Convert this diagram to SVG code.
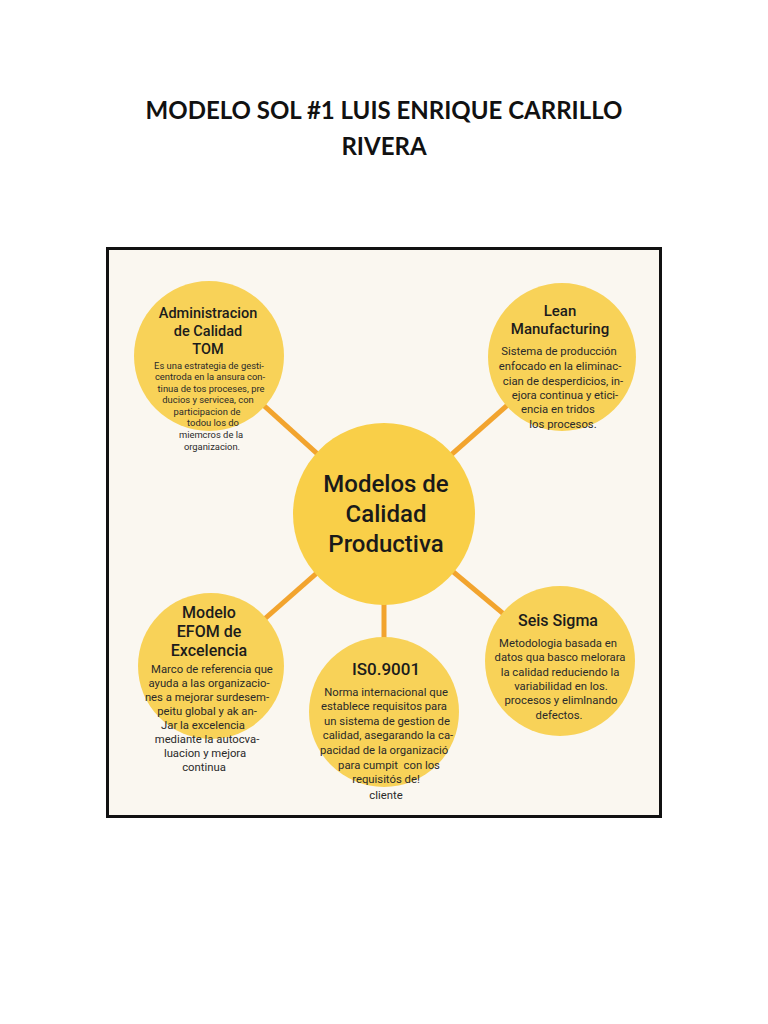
<svg xmlns="http://www.w3.org/2000/svg" width="768" height="1024" viewBox="0 0 768 1024">
<style>
.hdr{font-family:Lato,"Liberation Sans",sans-serif;font-weight:700;font-size:24px;fill:#111;text-anchor:middle}
.node{fill:#f8d258}
.hub{fill:#f9cf48}
.ttl{font-family:Roboto,"Liberation Sans",sans-serif;font-weight:500;font-size:15px;fill:#1c1c1c;text-anchor:middle}
.big{font-family:Roboto,"Liberation Sans",sans-serif;font-weight:500;font-size:24px;fill:#1a1a1a;text-anchor:middle}
.body{font-family:Roboto,"Liberation Sans",sans-serif;font-weight:400;font-size:11.3px;fill:#2a2a2a;text-anchor:middle}
.small{font-family:Roboto,"Liberation Sans",sans-serif;font-weight:400;font-size:9.4px;fill:#2a2a2a;text-anchor:middle}
.conn{stroke:#f2a42e;stroke-width:5;fill:none}
</style>
<rect x="0" y="0" width="768" height="1024" fill="#ffffff"/>
<g id="header">
<text class="hdr" x="384" y="119">MODELO SOL #1 LUIS ENRIQUE CARRILLO</text>
<text class="hdr" x="384" y="155">RIVERA</text>
</g>
<rect x="107.5" y="248.5" width="553" height="568" fill="#faf7f0" stroke="#111" stroke-width="3"/>
<g id="connectors">
<line class="conn" x1="384" y1="514" x2="209" y2="356"/>
<line class="conn" x1="384" y1="514" x2="562" y2="357"/>
<line class="conn" x1="384" y1="514" x2="211" y2="666"/>
<line class="conn" x1="384" y1="514" x2="384" y2="712"/>
<line class="conn" x1="384" y1="514" x2="560" y2="661"/>
</g>
<g id="hub">
<circle class="hub" cx="384" cy="514" r="91"/>
<text class="big" x="386" y="492">Modelos de</text>
<text class="big" x="386" y="522">Calidad</text>
<text class="big" x="386" y="552">Productiva</text>
</g>
<g id="tom">
<circle class="node" cx="209" cy="356" r="75"/>
<text class="ttl" style="font-size:14.5px" x="208" y="318">Administracion</text>
<text class="ttl" style="font-size:14.5px" x="208" y="336">de Calidad</text>
<text class="ttl" style="font-size:14.5px" x="208" y="354">TOM</text>
<text class="small" x="209" y="369">Es una estrategia de gesti-</text>
<text class="small" x="210" y="380">centroda en la ansura con-</text>
<text class="small" x="211" y="392">tinua de tos proceses, pre</text>
<text class="small" x="208" y="403">ducios y servicea, con</text>
<text class="small" x="207" y="415">participacion de</text>
<text class="small" x="213" y="426">todou los do</text>
<text class="small" x="211" y="438">miemcros de la</text>
<text class="small" x="212" y="450">organizacion.</text>
</g>
<g id="lean">
<circle class="node" cx="562" cy="357" r="74"/>
<text class="ttl" x="560" y="316">Lean</text>
<text class="ttl" x="560" y="334">Manufacturing</text>
<text class="body" x="559" y="355">Sistema de producción</text>
<text class="body" x="560" y="370">enfocado en la eliminac-</text>
<text class="body" x="563" y="385">cian de desperdicios, in-</text>
<text class="body" x="565" y="399">ejora continua y etici-</text>
<text class="body" x="558" y="413">encia en tridos</text>
<text class="body" x="563" y="428">los procesos.</text>
</g>
<g id="efom">
<circle class="node" cx="211" cy="666" r="73"/>
<text class="ttl" style="font-size:16px" x="209" y="618">Modelo</text>
<text class="ttl" style="font-size:16px" x="209" y="637">EFOM de</text>
<text class="ttl" style="font-size:16px" x="209" y="656">Excelencia</text>
<text class="body" x="212" y="673">Marco de referencia que</text>
<text class="body" x="209" y="687">ayuda a las organizacio-</text>
<text class="body" x="207" y="701">nes a mejorar surdesem-</text>
<text class="body" x="207" y="715">peitu global y ak an-</text>
<text class="body" x="203" y="729">Jar la excelencia</text>
<text class="body" x="207" y="743">mediante la autocva-</text>
<text class="body" x="205" y="757">luacion y mejora</text>
<text class="body" x="204" y="771">continua</text>
</g>
<g id="iso">
<circle class="node" cx="384" cy="712" r="75"/>
<text class="ttl" style="font-size:17px" x="386" y="675">IS0.9001</text>
<text class="body" x="386" y="696">Norma internacional que</text>
<text class="body" x="384" y="710">establece requisitos para</text>
<text class="body" x="387" y="725">un sistema de gestion de</text>
<text class="body" x="388" y="739">calidad, asegarando la ca-</text>
<text class="body" x="384" y="754">pacidad de la organizació</text>
<text class="body" x="389" y="769" style="white-space:pre">para cumpit  con los</text>
<text class="body" x="386" y="783">requisitós de!</text>
<text class="body" x="386" y="799">cliente</text>
</g>
<g id="seis">
<circle class="node" cx="560" cy="661" r="75"/>
<text class="ttl" style="font-size:16px" x="558" y="626">Seis Sigma</text>
<text class="body" x="558" y="647">Metodologia basada en</text>
<text class="body" x="560" y="661">datos qua basco melorara</text>
<text class="body" x="560" y="676">la calidad reduciendo la</text>
<text class="body" x="561" y="690">variabilidad en los.</text>
<text class="body" x="561" y="704">procesos y elimlnando</text>
<text class="body" x="559" y="719">defectos.</text>
</g>
</svg>
